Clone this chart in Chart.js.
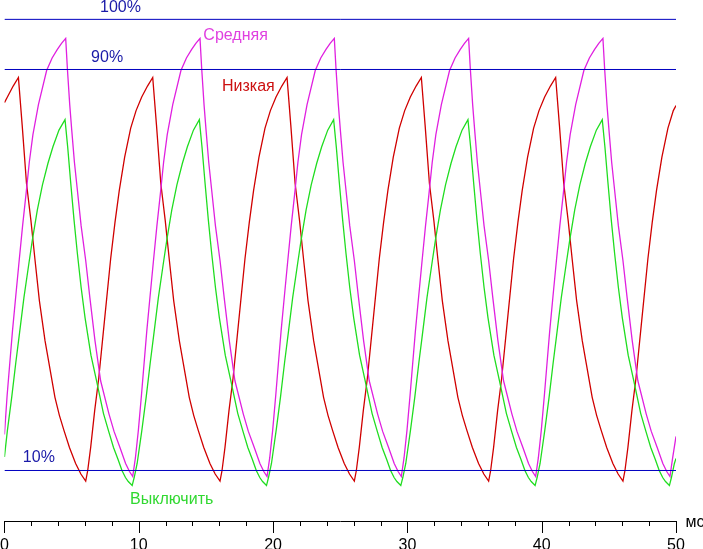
<!DOCTYPE html>
<html lang="ru">
<head>
    <meta charset="UTF-8">
    <title>Отклик матрицы</title>
    <script src="https://cdn.jsdelivr.net/npm/chart.js"></script>
    <style>
        html, body { margin: 0; padding: 0; background: #fff; overflow: hidden; }
        #responseChart { display: block; }
    </style>
</head>
<body>
    <canvas id="responseChart" width="703" height="554"></canvas>

    <script>
        // время, мс / яркость, %
        const srednyaya = [
            [0, 17.2], [0.20, 25.0], [0.40, 31.5], [0.60, 37.9], [0.85, 45.0], [1.10, 52.0], [1.35, 58.8], [1.60, 65.0], [1.85, 71.5], [2.12, 77.0], [2.53, 83.0], [3.14, 89.8], [3.55, 92.3], [3.94, 94.0], [4.25, 95.2], [4.56, 96.2],
            [4.69, 90.0], [4.86, 83.0], [5.01, 77.9], [5.21, 71.5], [5.43, 65.9], [5.71, 58.8], [6.05, 51.9], [6.36, 44.5], [6.74, 35.9], [7.16, 27.9], [7.78, 21.3], [8.16, 17.8], [8.60, 14.6], [9.02, 11.4], [9.31, 9.8], [9.55, 8.8],
            [9.75, 12.5], [9.97, 18.0], [10.20, 25.0], [10.40, 31.5], [10.60, 37.9], [10.85, 45.0], [11.10, 52.0], [11.35, 58.8], [11.60, 65.0], [11.85, 71.5], [12.12, 77.0], [12.53, 83.0], [13.14, 89.8], [13.55, 92.3], [13.94, 94.0], [14.25, 95.2], [14.56, 96.2],
            [14.69, 90.0], [14.86, 83.0], [15.01, 77.9], [15.21, 71.5], [15.43, 65.9], [15.71, 58.8], [16.05, 51.9], [16.36, 44.5], [16.74, 35.9], [17.16, 27.9], [17.78, 21.3], [18.16, 17.8], [18.60, 14.6], [19.02, 11.4], [19.31, 9.8], [19.55, 8.8],
            [19.75, 12.5], [19.97, 18.0], [20.20, 25.0], [20.40, 31.5], [20.60, 37.9], [20.85, 45.0], [21.10, 52.0], [21.35, 58.8], [21.60, 65.0], [21.85, 71.5], [22.12, 77.0], [22.53, 83.0], [23.14, 89.8], [23.55, 92.3], [23.94, 94.0], [24.25, 95.2], [24.56, 96.2],
            [24.69, 90.0], [24.86, 83.0], [25.01, 77.9], [25.21, 71.5], [25.43, 65.9], [25.71, 58.8], [26.05, 51.9], [26.36, 44.5], [26.74, 35.9], [27.16, 27.9], [27.78, 21.3], [28.16, 17.8], [28.60, 14.6], [29.02, 11.4], [29.31, 9.8], [29.55, 8.8],
            [29.75, 12.5], [29.97, 18.0], [30.20, 25.0], [30.40, 31.5], [30.60, 37.9], [30.85, 45.0], [31.10, 52.0], [31.35, 58.8], [31.60, 65.0], [31.85, 71.5], [32.12, 77.0], [32.53, 83.0], [33.14, 89.8], [33.55, 92.3], [33.94, 94.0], [34.25, 95.2], [34.56, 96.2],
            [34.69, 90.0], [34.86, 83.0], [35.01, 77.9], [35.21, 71.5], [35.43, 65.9], [35.71, 58.8], [36.05, 51.9], [36.36, 44.5], [36.74, 35.9], [37.16, 27.9], [37.78, 21.3], [38.16, 17.8], [38.60, 14.6], [39.02, 11.4], [39.31, 9.8], [39.55, 8.8],
            [39.75, 12.5], [39.97, 18.0], [40.20, 25.0], [40.40, 31.5], [40.60, 37.9], [40.85, 45.0], [41.10, 52.0], [41.35, 58.8], [41.60, 65.0], [41.85, 71.5], [42.12, 77.0], [42.53, 83.0], [43.14, 89.8], [43.55, 92.3], [43.94, 94.0], [44.25, 95.2], [44.56, 96.2],
            [44.69, 90.0], [44.86, 83.0], [45.01, 77.9], [45.21, 71.5], [45.43, 65.9], [45.71, 58.8], [46.05, 51.9], [46.36, 44.5], [46.74, 35.9], [47.16, 27.9], [47.78, 21.3], [48.16, 17.8], [48.60, 14.6], [49.02, 11.4], [49.31, 9.8], [49.55, 8.8],
            [49.75, 12.5], [50.0, 16.8]
        ];

        const nizkaya = [
            [0, 83.4], [0.22, 84.5], [0.65, 86.7], [1.04, 88.4],
            [1.32, 78.9], [1.64, 67.3], [1.97, 59.9], [2.28, 51.9], [2.60, 43.9], [3.02, 35.9], [3.32, 31.3], [3.76, 24.6], [4.09, 21.0], [4.43, 18.0], [4.84, 14.6], [5.30, 11.4], [5.69, 9.3], [6.05, 7.9],
            [6.20, 10.0], [6.42, 14.6], [6.72, 22.0], [7.02, 28.4], [7.41, 38.9], [7.91, 52.3], [8.23, 59.5], [8.55, 65.9], [8.95, 72.5], [9.40, 78.3], [9.80, 81.8], [10.22, 84.5], [10.65, 86.7], [11.04, 88.4],
            [11.32, 78.9], [11.64, 67.3], [11.97, 59.9], [12.28, 51.9], [12.60, 43.9], [13.02, 35.9], [13.32, 31.3], [13.76, 24.6], [14.09, 21.0], [14.43, 18.0], [14.84, 14.6], [15.30, 11.4], [15.69, 9.3], [16.05, 7.9],
            [16.20, 10.0], [16.42, 14.6], [16.72, 22.0], [17.02, 28.4], [17.41, 38.9], [17.91, 52.3], [18.23, 59.5], [18.55, 65.9], [18.95, 72.5], [19.40, 78.3], [19.80, 81.8], [20.22, 84.5], [20.65, 86.7], [21.04, 88.4],
            [21.32, 78.9], [21.64, 67.3], [21.97, 59.9], [22.28, 51.9], [22.60, 43.9], [23.02, 35.9], [23.32, 31.3], [23.76, 24.6], [24.09, 21.0], [24.43, 18.0], [24.84, 14.6], [25.30, 11.4], [25.69, 9.3], [26.05, 7.9],
            [26.20, 10.0], [26.42, 14.6], [26.72, 22.0], [27.02, 28.4], [27.41, 38.9], [27.91, 52.3], [28.23, 59.5], [28.55, 65.9], [28.95, 72.5], [29.40, 78.3], [29.80, 81.8], [30.22, 84.5], [30.65, 86.7], [31.04, 88.4],
            [31.32, 78.9], [31.64, 67.3], [31.97, 59.9], [32.28, 51.9], [32.60, 43.9], [33.02, 35.9], [33.32, 31.3], [33.76, 24.6], [34.09, 21.0], [34.43, 18.0], [34.84, 14.6], [35.30, 11.4], [35.69, 9.3], [36.05, 7.9],
            [36.20, 10.0], [36.42, 14.6], [36.72, 22.0], [37.02, 28.4], [37.41, 38.9], [37.91, 52.3], [38.23, 59.5], [38.55, 65.9], [38.95, 72.5], [39.40, 78.3], [39.80, 81.8], [40.22, 84.5], [40.65, 86.7], [41.04, 88.4],
            [41.32, 78.9], [41.64, 67.3], [41.97, 59.9], [42.28, 51.9], [42.60, 43.9], [43.02, 35.9], [43.32, 31.3], [43.76, 24.6], [44.09, 21.0], [44.43, 18.0], [44.84, 14.6], [45.30, 11.4], [45.69, 9.3], [46.05, 7.9],
            [46.20, 10.0], [46.42, 14.6], [46.72, 22.0], [47.02, 28.4], [47.41, 38.9], [47.91, 52.3], [48.23, 59.5], [48.55, 65.9], [48.95, 72.5], [49.40, 78.3], [49.80, 81.8], [50.0, 82.8]
        ];

        const vyklyuchit = [
            [0, 12.7], [0.22, 18.0], [0.54, 24.6], [0.84, 31.4], [1.08, 36.5], [1.45, 44.5], [1.83, 51.5], [2.08, 56.0], [2.45, 62.0], [2.83, 67.0], [3.24, 71.3], [3.61, 74.6], [4.06, 77.9], [4.51, 80.0],
            [4.71, 74.5], [4.93, 67.5], [5.18, 60.0], [5.43, 53.3], [5.71, 46.5], [6.00, 40.5], [6.44, 33.0], [6.85, 28.0], [7.37, 21.4], [7.76, 17.8], [8.12, 14.6], [8.46, 12.2], [8.75, 10.0], [9.01, 8.6], [9.22, 7.8], [9.51, 7.0],
            [9.66, 8.6], [9.88, 11.4], [10.23, 18.0], [10.55, 24.6], [10.85, 31.4], [11.09, 36.5], [11.46, 44.5], [11.84, 51.5], [12.09, 56.0], [12.46, 62.0], [12.84, 67.0], [13.25, 71.3], [13.62, 74.6], [14.07, 77.9], [14.51, 80.0],
            [14.71, 74.5], [14.93, 67.5], [15.18, 60.0], [15.43, 53.3], [15.71, 46.5], [16.00, 40.5], [16.44, 33.0], [16.85, 28.0], [17.37, 21.4], [17.76, 17.8], [18.12, 14.6], [18.46, 12.2], [18.75, 10.0], [19.01, 8.6], [19.22, 7.8], [19.51, 7.0],
            [19.66, 8.6], [19.88, 11.4], [20.23, 18.0], [20.55, 24.6], [20.85, 31.4], [21.09, 36.5], [21.46, 44.5], [21.84, 51.5], [22.09, 56.0], [22.46, 62.0], [22.84, 67.0], [23.25, 71.3], [23.62, 74.6], [24.07, 77.9], [24.51, 80.0],
            [24.71, 74.5], [24.93, 67.5], [25.18, 60.0], [25.43, 53.3], [25.71, 46.5], [26.00, 40.5], [26.44, 33.0], [26.85, 28.0], [27.37, 21.4], [27.76, 17.8], [28.12, 14.6], [28.46, 12.2], [28.75, 10.0], [29.01, 8.6], [29.22, 7.8], [29.51, 7.0],
            [29.66, 8.6], [29.88, 11.4], [30.23, 18.0], [30.55, 24.6], [30.85, 31.4], [31.09, 36.5], [31.46, 44.5], [31.84, 51.5], [32.09, 56.0], [32.46, 62.0], [32.84, 67.0], [33.25, 71.3], [33.62, 74.6], [34.07, 77.9], [34.51, 80.0],
            [34.71, 74.5], [34.93, 67.5], [35.18, 60.0], [35.43, 53.3], [35.71, 46.5], [36.00, 40.5], [36.44, 33.0], [36.85, 28.0], [37.37, 21.4], [37.76, 17.8], [38.12, 14.6], [38.46, 12.2], [38.75, 10.0], [39.01, 8.6], [39.22, 7.8], [39.51, 7.0],
            [39.66, 8.6], [39.88, 11.4], [40.23, 18.0], [40.55, 24.6], [40.85, 31.4], [41.09, 36.5], [41.46, 44.5], [41.84, 51.5], [42.09, 56.0], [42.46, 62.0], [42.84, 67.0], [43.25, 71.3], [43.62, 74.6], [44.07, 77.9], [44.51, 80.0],
            [44.71, 74.5], [44.93, 67.5], [45.18, 60.0], [45.43, 53.3], [45.71, 46.5], [46.00, 40.5], [46.44, 33.0], [46.85, 28.0], [47.37, 21.4], [47.76, 17.8], [48.12, 14.6], [48.46, 12.2], [48.75, 10.0], [49.01, 8.6], [49.22, 7.8], [49.51, 7.0],
            [49.66, 8.6], [49.88, 11.4], [50.0, 12.4]
        ];

        // уровни 10/90/100 %
        const levels = [100, 90, 10];
        const xTicks = [0, 10, 20, 30, 40, 50];
        const minorTicks = [2, 4, 6, 8, 12, 14, 16, 18, 22, 24, 26, 28, 32, 34, 36, 38, 42, 44, 46, 48];

        // подписи: текст и место в координатах графика (мс, %)
        const notes = [
            { text: '100%', x: 7.12, y: 101.5, color: '#1a1aa8' },
            { text: '90%', x: 6.45, y: 91.5, color: '#1a1aa8' },
            { text: '10%', x: 1.37, y: 11.66, color: '#1a1aa8' },
            { text: 'Средняя', x: 14.81, y: 95.85, color: '#e040e0' },
            { text: 'Низкая', x: 16.2, y: 85.7, color: '#cc1010' },
            { text: 'Выключить', x: 9.35, y: 3.23, color: '#30d830' },
            { text: 'мс', x: 50.7, y: -1.3, color: '#000000' }
        ];

        const FONT = '"Liberation Sans", Arial, sans-serif';

        const toXY = arr => arr.map(p => ({ x: p[0], y: p[1] }));

        const levelSets = levels.map(v => ({
            label: v + '%',
            data: [{ x: xTicks[0], y: v }, { x: xTicks[xTicks.length - 1], y: v }],
            borderColor: '#0000c0',
            borderWidth: 1,
            pointRadius: 0
        }));

        const notesPlugin = {
            id: 'notes',
            afterDraw(chart) {
                const ctx = chart.ctx;
                const xs = chart.scales.x, ys = chart.scales.y;
                const bottom = Math.round(chart.chartArea.bottom);
                ctx.save();
                // засечки: крупные 12 px, мелкие 5 px
                ctx.strokeStyle = '#000';
                ctx.lineWidth = 1;
                ctx.beginPath();
                xTicks.forEach(v => {
                    const px = Math.round(xs.getPixelForValue(v)) + 0.5;
                    ctx.moveTo(px, bottom);
                    ctx.lineTo(px, bottom + 12);
                });
                minorTicks.forEach(v => {
                    const px = Math.round(xs.getPixelForValue(v)) + 0.5;
                    ctx.moveTo(px, bottom);
                    ctx.lineTo(px, bottom + 5);
                });
                ctx.stroke();

                ctx.font = '16px ' + FONT;
                ctx.textBaseline = 'alphabetic';
                ctx.textAlign = 'left';
                notes.forEach(n => {
                    ctx.fillStyle = n.color;
                    ctx.fillText(n.text, xs.getPixelForValue(n.x), ys.getPixelForValue(n.y));
                });
                ctx.restore();
            }
        };

        function createChart() {
            const ctx = document.getElementById('responseChart').getContext('2d');
            new Chart(ctx, {
                type: 'line',
                data: {
                    datasets: [
                        ...levelSets,
                        { label: 'Средняя', data: toXY(srednyaya), borderColor: '#e020e0', borderWidth: 1.3, pointRadius: 0 },
                        { label: 'Выключить', data: toXY(vyklyuchit), borderColor: '#20dd20', borderWidth: 1.3, pointRadius: 0 },
                        { label: 'Низкая', data: toXY(nizkaya), borderColor: '#d00000', borderWidth: 1.3, pointRadius: 0 }
                    ]
                },
                options: {
                    responsive: false,
                    devicePixelRatio: 1,
                    animation: false,
                    events: [],
                    layout: { padding: { left: 0, right: 27, top: 0, bottom: 0 } },
                    elements: { line: { tension: 0 } },
                    scales: {
                        x: {
                            type: 'linear',
                            min: 0,
                            max: 50,
                            afterBuildTicks: scale => { scale.ticks = xTicks.map(v => ({ value: v })); },
                            ticks: {
                                color: '#000',
                                padding: 0,
                                maxRotation: 0,
                                autoSkip: false,
                                font: { family: FONT, size: 16, lineHeight: 1 }
                            },
                            grid: { drawOnChartArea: false, drawTicks: true, tickLength: 17, color: 'rgba(0,0,0,0)', tickColor: 'rgba(0,0,0,0)' },
                            border: { display: true, color: '#000', width: 1 }
                        },
                        y: {
                            display: false,
                            min: -0.075,
                            max: 103.865
                        }
                    },
                    plugins: {
                        legend: { display: false },
                        tooltip: { enabled: false }
                    }
                },
                plugins: [notesPlugin]
            });
        }

        window.onload = createChart;
    </script>
</body>
</html>
